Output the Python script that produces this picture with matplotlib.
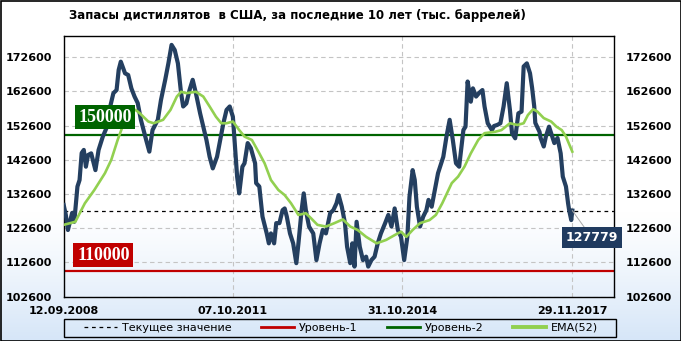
import numpy as np
import pandas as pd
import matplotlib
matplotlib.use('Agg')
import matplotlib.pyplot as plt
from matplotlib.colors import LinearSegmentedColormap
from matplotlib.patches import Rectangle
from matplotlib.lines import Line2D

# weekly distillate stocks, weeks counted from 12.09.2008 (thousand barrels)
start_date = '2008-09-12'
weeks = [0, 2, 4, 8, 10, 13, 15, 17, 19, 21,
         23, 26, 30, 33, 34, 37, 41, 44, 47, 50,
         52, 54, 58, 61, 64, 67, 70, 73, 78, 81,
         84, 89, 92, 96, 99, 102, 105, 108, 111, 113,
         116, 119, 122, 125, 129, 132, 135, 138, 141, 145,
         148, 151, 154, 157, 160, 162, 164, 166, 169, 171,
         174, 177, 181, 182, 185, 188, 192, 194, 196, 199,
         201, 204, 207, 209, 211, 214, 217, 220, 222, 225,
         227, 229, 232, 236, 239, 242, 245, 248, 252, 255,
         258, 260, 263, 266, 268, 271, 273, 275, 277, 280,
         283, 286, 288, 291, 294, 297, 300, 304, 307, 310,
         313, 316, 319, 322, 325, 327, 330, 332, 334, 337,
         340, 343, 345, 348, 351, 354, 359, 362, 365, 368,
         371, 374, 378, 380, 382, 385, 387, 390, 393, 396,
         398, 401, 405, 407, 410, 413, 416, 419, 422, 424,
         427, 430, 433, 435, 438, 441, 443, 445, 446, 450,
         451, 454, 456, 459, 462, 464, 467, 470, 472, 475,
         477, 478, 480, 481]
stocks = [129400, 126500, 122100, 127100, 124500, 134800, 136700, 144600, 145500, 140600,
          144000, 144500, 139600, 145500, 146500, 149400, 152300, 158200, 162100, 163000,
          168900, 171300, 167900, 167400, 163500, 161100, 159200, 154300, 148400, 145000,
          151300, 154300, 160100, 166000, 170800, 176200, 174700, 170800, 162100, 158200,
          159100, 163000, 166000, 162100, 156200, 152300, 148400, 143500, 140100, 143500,
          148400, 153300, 157200, 158200, 155200, 146500, 137700, 132800, 140600, 141600,
          147500, 146000, 141600, 135800, 134800, 126000, 121100, 118200, 121100, 118200,
          124100, 124100, 127900, 128400, 126000, 121100, 118200, 112400, 118200, 127900,
          132800, 127900, 123100, 121100, 113300, 118200, 122100, 121100, 127000, 127900,
          129900, 132300, 128900, 124100, 117200, 112400, 118200, 111400, 124500, 117200,
          113300, 114300, 111400, 113300, 114300, 118200, 121100, 124100, 126500, 123100,
          128400, 122100, 120100, 113300, 120100, 131800, 139600, 136700, 128900, 123100,
          126000, 127900, 130900, 128900, 133800, 138700, 143500, 149400, 154300, 148400,
          141600, 140600, 151300, 152300, 165500, 159600, 163500, 161100, 162200, 163000,
          158200, 153300, 151300, 152500, 152800, 153300, 158200, 165000, 157200, 150400,
          148900, 156200, 156700, 169900, 170800, 167900, 163600, 158200, 153400, 150800,
          149000, 146500, 149400, 152300, 149400, 147500, 149000, 144500, 137700, 134800,
          129900, 127900, 125000, 127779]

ema_weeks = [0, 11, 20, 29, 39, 45, 51, 58, 64, 68,
             72, 80, 85, 94, 101, 107, 111, 116, 125, 132,
             138, 144, 149, 154, 160, 166, 171, 178, 185, 190,
             196, 203, 209, 215, 222, 229, 234, 240, 248, 256,
             264, 271, 278, 286, 296, 305, 313, 319, 324, 330,
             337, 346, 352, 358, 367, 373, 379, 385, 392, 398,
             408, 414, 422, 429, 435, 439, 444, 448, 454, 461,
             466, 471, 475, 481]
ema52 = [123600, 124500, 129900, 133800, 138700, 142600, 148400, 154300, 156800, 157200,
         156200, 153800, 153300, 154300, 157200, 161100, 162500, 162100, 162500, 161100,
         158200, 155200, 153300, 153300, 153800, 151300, 149400, 148400, 144500, 141600,
         136700, 133800, 132300, 129900, 126500, 127000, 125500, 123600, 123100, 124100,
         125200, 123100, 122100, 120100, 118200, 119200, 120600, 121600, 120100, 122100,
         124100, 125000, 126500, 129900, 135800, 137700, 140600, 144500, 148400, 150400,
         150800, 151300, 153300, 152800, 153300, 155700, 157400, 156700, 154800, 153800,
         152300, 151300, 149400, 145000]

current = 127779
level1 = 110000
level2 = 150000

yticks = [102600, 112600, 122600, 132600, 142600, 152600, 162600, 172600]
xtick_dates = ['2008-09-12', '2011-10-07', '2014-10-31', '2017-11-29']
xtick_labels = ['12.09.2008', '07.10.2011', '31.10.2014', '29.11.2017']
legend_labels = ['Текущее значение', 'Уровень-1', 'Уровень-2', 'EMA(52)']
title = 'Запасы дистиллятов  в США, за последние 10 лет (тыс. баррелей)'

base = pd.Timestamp(start_date)
dates = base + pd.to_timedelta(np.array(weeks) * 7, unit='D')
ema_dates = base + pd.to_timedelta(np.array(ema_weeks) * 7, unit='D')

W, H = 681, 341
fig = plt.figure(figsize=(W / 100, H / 100), dpi=100)

# background gradient white -> light blue towards the bottom
bg = fig.add_axes([0, 0, 1, 1], zorder=-10)
yy = np.linspace(0, 1, 300).reshape(-1, 1)
grad = np.clip((yy - 0.62) / 0.38, 0, 1) ** 1.2
cmap = LinearSegmentedColormap.from_list('bg', ['#ffffff', '#d6e6f8'])
bg.imshow(grad, aspect='auto', cmap=cmap, extent=[0, 1, 0, 1], vmin=0, vmax=1)
bg.set_axis_off()

ax = fig.add_axes([63.7 / W, (H - 296.7) / H, (614.3 - 63.7) / W, (296.7 - 36) / H])
ax.patch.set_alpha(0)

ax.grid(True, color='#c4c4c4', lw=0.8, ls=(0, (4, 3)))
ax.set_axisbelow(True)

ax.axhline(level1, color='#c00000', lw=1.6, zorder=2)
ax.axhline(level2, color='#006400', lw=1.6, zorder=2)
ax.axhline(current, color='black', lw=0.9, ls=(0, (3, 3)), zorder=2)
ax.plot(dates, stocks, color='#243f60', lw=3.0, solid_joinstyle='round', zorder=3)
ax.plot(ema_dates, ema52, color='#92d050', lw=1.9, zorder=4)

ax.set_ylim(102600, 178800)
ax.set_xlim(base, pd.Timestamp('2018-09-05'))
ax.set_yticks(yticks)
ax.set_yticklabels([str(v) for v in yticks])
ax.set_xticks(pd.to_datetime(xtick_dates))
ax.set_xticklabels(xtick_labels)
ax.tick_params(axis='y', length=0, pad=8.4, labelsize=8, left=True, right=True,
               labelleft=True, labelright=True)
ax.tick_params(axis='x', length=0, pad=6.5, labelsize=8)
for t in ax.yaxis.get_major_ticks() + ax.xaxis.get_major_ticks():
    t.label1.set_fontweight('bold')
    t.label2.set_fontweight('bold')
for s in ax.spines.values():
    s.set_color('black')
    s.set_linewidth(1)

ytr = ax.get_yaxis_transform()
ax.annotate(str(level2), xy=(0.075, level2), xycoords=ytr, xytext=(0, 12.6),
            textcoords='offset points', ha='center', va='center', color='white',
            fontsize=13, fontweight='bold', family='Liberation Serif',
            bbox=dict(boxstyle='square,pad=0.2', fc='#006400', ec='none'), zorder=6)
ax.annotate(str(level1), xy=(0.072, level1), xycoords=ytr, xytext=(0, 11.7),
            textcoords='offset points', ha='center', va='center', color='white',
            fontsize=13, fontweight='bold', family='Liberation Serif',
            bbox=dict(boxstyle='square,pad=0.2', fc='#c00000', ec='none'), zorder=6)
ax.annotate(str(current), xy=(dates[-1], stocks[-1]), xytext=(14, -19.5),
            textcoords='offset points', ha='center', va='center', color='white',
            fontsize=9, fontweight='bold',
            bbox=dict(boxstyle='square,pad=0.3', fc='#1f3a5f', ec='none'),
            arrowprops=dict(arrowstyle='-', color='#a8a8a8', lw=0.7, shrinkA=0, shrinkB=0),
            annotation_clip=False, zorder=7)

fig.text(69 / W, 1 - 15 / H, title, fontsize=8.5, fontweight='bold', ha='left', va='center')

handles = [Line2D([], [], color='black', lw=0.9, ls=(0, (3, 3))),
           Line2D([], [], color='#c00000', lw=2.0),
           Line2D([], [], color='#006400', lw=2.0),
           Line2D([], [], color='#92d050', lw=2.8)]
fig.legend(handles, legend_labels, loc='center', bbox_to_anchor=(341 / W, 1 - 328 / H),
           ncol=4, frameon=False, fontsize=8, handlelength=3.0, handletextpad=0.45,
           columnspacing=2.6, borderpad=0, borderaxespad=0)
fig.add_artist(Rectangle((63.5 / W, 1 - 337 / H), (616 - 63.5) / W, 18 / H,
                         transform=fig.transFigure, fill=False, ec='black', lw=1))
fig.add_artist(Rectangle((0.5 / W, 0.5 / H), 1 - 1 / W, 1 - 1 / H,
                         transform=fig.transFigure, fill=False, ec='black', lw=1.2))

fig.savefig('out.png', dpi=100)
